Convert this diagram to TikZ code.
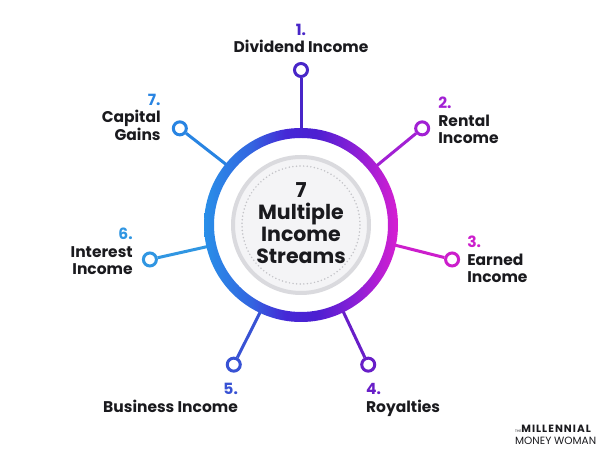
\documentclass[tikz,border=0pt]{standalone}
\usepackage{fontspec}
\setmainfont{Poppins}
\usetikzlibrary{positioning}
\definecolor{ink}{RGB}{26,26,30}
\definecolor{cone}{RGB}{72,38,200}
\definecolor{ctwo}{RGB}{162,32,212}
\definecolor{cthree}{RGB}{204,30,204}
\definecolor{cfour}{RGB}{104,30,200}
\definecolor{cfive}{RGB}{56,82,212}
\definecolor{csix}{RGB}{48,150,226}
\definecolor{cseven}{RGB}{40,132,226}
\definecolor{corefill}{RGB}{244,244,246}
\definecolor{coreline}{RGB}{218,218,222}
\definecolor{dotgray}{RGB}{196,196,200}
\pgfdeclarehorizontalshading{ringshade}{100bp}{
  rgb(0bp)=(0.16,0.56,0.91);
  rgb(25bp)=(0.16,0.56,0.91);
  rgb(37bp)=(0.20,0.40,0.88);
  rgb(46bp)=(0.27,0.16,0.84);
  rgb(54bp)=(0.30,0.12,0.82);
  rgb(63bp)=(0.52,0.12,0.84);
  rgb(75bp)=(0.84,0.12,0.82);
  rgb(100bp)=(0.84,0.12,0.82)}
\tikzset{
  dot/.style={circle, draw=#1, line width=3pt, fill=white, minimum size=13pt, inner sep=0pt},
  spoke/.style={draw=#1, line width=3pt},
  stream/.style={font=\bfseries\fontsize{15.5}{17.5}\selectfont, text=ink, inner sep=0pt},
}
\begin{document}
\begin{tikzpicture}[x=1pt,y=1pt]
\useasboundingbox[fill=white] (0,0) rectangle (600,449);
\node (h) [circle, minimum size=184pt, inner sep=0pt] at (301,224) {};
\node (d1) [dot=cone] at ([shift={(90:155)}]h.center) {};
\node (d2) [dot=ctwo] at ([shift={(38.57:155)}]h.center) {};
\node (d3) [dot=cthree] at ([shift={(-12.86:155)}]h.center) {};
\node (d4) [dot=cfour] at ([shift={(-64.29:155)}]h.center) {};
\node (d5) [dot=cfive] at ([shift={(-115.71:155)}]h.center) {};
\node (d6) [dot=csix] at ([shift={(-167.14:155)}]h.center) {};
\node (d7) [dot=cseven] at ([shift={(141.43:155)}]h.center) {};
\draw [spoke=cone] (h.90) -- (d1);
\draw [spoke=ctwo] (h.38.57) -- (d2);
\draw [spoke=cthree] (h.-12.86) -- (d3);
\draw [spoke=cfour] (h.-64.29) -- (d4);
\draw [spoke=cfive] (h.-115.71) -- (d5);
\draw [spoke=csix] (h.-167.14) -- (d6);
\draw [spoke=cseven] (h.141.43) -- (d7);
\shade [shading=ringshade, even odd rule] (h.center) circle (97) (h.center) circle (87);
\node (core) [circle, fill=corefill, draw=coreline, line width=4pt, minimum size=136pt] at (h) {};
\node (ring) [circle, draw=dotgray, line width=1.7pt, line cap=round, dash pattern=on 0pt off 3.6pt, minimum size=118pt] at (h) {};
\node (title) [font=\bfseries\fontsize{20.5}{22}\selectfont, text=ink, align=center] at ([yshift=2pt]h.center) {7\\Multiple\\Income\\Streams};
\node (t1) [stream, align=center, above=9pt of d1] {\textcolor{cone}{1.}\\Dividend Income};
\node (t2) [stream, align=left, right=8pt of d2, yshift=8pt] {\textcolor{ctwo}{2.}\\Rental\\Income};
\node (t3) [stream, align=left, right=7pt of d3] {\textcolor{cthree}{3.}\\Earned\\Income};
\node (t4) [stream, align=left, below right=13pt and -8pt of d4] {\textcolor{cfour}{4.}\\Royalties};
\node (t5) [stream, align=right, below left=13pt and -10pt of d5] {\textcolor{cfive}{5.}\\Business Income};
\node (t6) [stream, align=right, left=9pt of d6, yshift=8pt] {\textcolor{csix}{6.}\\Interest\\Income};
\node (t7) [stream, align=right, left=11pt of d7, yshift=11pt] {\textcolor{cseven}{7.}\\Capital\\Gains};
\node (logo) [anchor=west, text=ink, align=left, inner sep=0pt, font=\fontsize{10.5}{12}\selectfont] at (515,14) {{\fontsize{3.5}{3.5}\selectfont THE}{\bfseries\addfontfeatures{LetterSpace=10}MILLENNIAL}\\MONEY WOMAN};
\end{tikzpicture}
\end{document}
